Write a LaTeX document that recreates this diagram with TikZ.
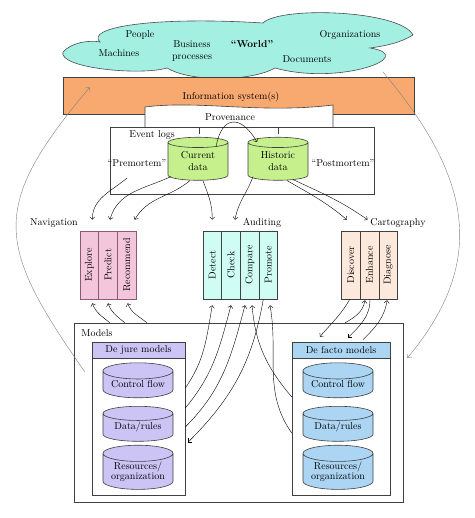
\documentclass[tikz,border=0pt]{standalone}
\usetikzlibrary{shapes.geometric}
\usetikzlibrary{positioning}
\usetikzlibrary{arrows.meta}
\definecolor{cloudfill}{HTML}{A3EFE2}
\definecolor{infofill}{HTML}{F8A970}
\definecolor{greenfill}{HTML}{C6F08C}
\definecolor{pinkfill}{HTML}{F4C6DC}
\definecolor{pinkline}{HTML}{8C5A72}
\definecolor{cyanfill}{HTML}{CFFCF3}
\definecolor{peachfill}{HTML}{FCE9DC}
\definecolor{lilacfill}{HTML}{CBC4F5}
\definecolor{bluefill}{HTML}{ABD5F2}
\tikzset{
    frame/.style = {rectangle, draw=black!75, semithick, inner sep=0pt},
    cell/.style = {rectangle, draw=black!75, semithick, minimum width=18.7pt, minimum height=68pt, inner sep=0pt},
    cellp/.style = {cell, fill=pinkfill, draw=pinkline},
    cella/.style = {cell, fill=cyanfill},
    cellc/.style = {cell, fill=peachfill},
    mydb/.style = {cylinder, shape border rotate=90, aspect=0.3, draw=black!75, semithick, align=center, inner sep=0pt},
    mydbg/.style = {mydb, fill=greenfill, minimum width=60pt, minimum height=43pt},
    mydbl/.style = {mydb, fill=lilacfill, minimum width=70pt, minimum height=35pt},
    mydbb/.style = {mydb, fill=bluefill, minimum width=70pt, minimum height=35pt},
    edgen/.style = {-{Straight Barb[length=2.5pt,width=5pt]}, thin},
    edgeg/.style = {-{Straight Barb[length=3pt,width=6pt]}, thin, gray},
}

\begin{document}
\begin{tikzpicture}[x=1pt,y=1pt]
\useasboundingbox (0,0) rectangle (474,518);
%
% world cloud
\path[draw=black!70, semithick, fill=cloudfill] (63,466)
    .. controls (72,476) and (90,478) .. (100,476)
    .. controls (85,490) and (150,502) .. (263,495)
    .. controls (280,512) and (400,508) .. (413,483)
    .. controls (400,475) and (385,472) .. (370,470)
    .. controls (420,462) and (340,432) .. (275,450)
    .. controls (250,436) and (190,436) .. (167,450)
    .. controls (140,442) and (58,450) .. (63,466) -- cycle;
\coordinate (world) at (383,446);
\node at (140,483) (people) {People};
\node at (119,465) (machines) {Machines};
\node[align=center] at (192,467) (bp) {Business\\processes};
\node at (252,474) (wld) {\textbf{``World''}};
\node at (350,483) (orgs) {Organizations};
\node at (307,459) (docs) {Documents};
%
% information system and provenance
\node[frame, fill=infofill, minimum width=351pt, minimum height=37pt] at (238.5,422.5) (info) {};
\node at (231,421) (infotxt) {Information system(s)};
\path[draw=black!75, semithick, fill=white] (145,390) -- (145,411)
    .. controls (200,418) and (260,404) .. (333,413) -- (333,390) -- cycle;
\node at (230,401) (prov) {Provenance};
%
% event logs
\node[frame, fill=white, minimum width=264pt, minimum height=67pt] at (242,357.5) (ev) {};
\draw[black!75, semithick] ([xshift=-43pt]ev.north) -- ++(0,-7);
\draw[black!75, semithick] ([xshift=36pt]ev.north) -- ++(0,-7);
\node at (152,383) (evtxt) {Event logs};
\node[mydbg] at (198,356.5) (cur) {Current\\data};
\node[mydbg] at (278,356.5) (his) {Historic\\data};
\node at (137,355) (pre) {``Premortem''};
\node at (343,355) (post) {``Postmortem''};
%
% navigation, auditing, cartography
\node at (54,295) (navtxt) {Navigation};
\node at (262,295) (audtxt) {Auditing};
\node at (398,295) (cartxt) {Cartography};
\node[cellp] at (89.3,253) (exp) {\rotatebox{90}{Explore}};
\node[cellp] at (108,253) (prd) {\rotatebox{90}{Predict}};
\node[cellp] at (126.7,253) (rec) {\rotatebox{90}{Recommend}};
\node[cella] at (212.3,253) (det) {\rotatebox{90}{Detect}};
\node[cella] at (231,253) (chk) {\rotatebox{90}{Check}};
\node[cella] at (249.7,253) (cmp) {\rotatebox{90}{Compare}};
\node[cella] at (268.3,253) (prm) {\rotatebox{90}{Promote}};
\node[cellc] at (350.8,253) (dis) {\rotatebox{90}{Discover}};
\node[cellc] at (369.5,253) (enh) {\rotatebox{90}{Enhance}};
\node[cellc] at (388.2,253) (dia) {\rotatebox{90}{Diagnose}};
%
% models
\node[frame, fill=white, minimum width=329pt, minimum height=179pt] at (238.5,105.5) (models) {};
\node at (97,185) (modtxt) {Models};
\node[frame, minimum width=93pt, minimum height=153pt] at (138.5,99.5) (dj) {};
\node[frame, fill=lilacfill, minimum width=93pt, minimum height=16pt] at (138.5,168) (djh) {De jure models};
\node[mydbl] at (138,133.5) (djcf) {Control flow};
\node[mydbl] at (138,90.5) (djdr) {Data/rules};
\node[mydbl, minimum height=37pt] at (138,46.5) (djro) {Resources/\\[-2pt]organization};
\node[frame, minimum width=98pt, minimum height=153pt] at (341,99.5) (df) {};
\node[frame, fill=bluefill, minimum width=98pt, minimum height=16pt] at (341,168) (dfh) {De facto models};
\node[mydbb] at (338,133.5) (dfcf) {Control flow};
\node[mydbb] at (338,90.5) (dfdr) {Data/rules};
\node[mydbb, minimum height=37pt] at (338,46.5) (dfro) {Resources/\\[-2pt]organization};
%
% arrows from the event logs
\draw[edgen] ([xshift=18pt,yshift=-10pt]cur.north) to[out=80,in=120,looseness=2] ([xshift=-21pt,yshift=-5pt]his.north);
\draw[edgen] ([xshift=-10pt,yshift=-8pt]pre.south) to[out=-140,in=90] ([xshift=3pt,yshift=11pt]exp.north);
\draw[edgen] ([xshift=-27pt,yshift=4pt]cur.south) to[out=-155,in=75] ([xshift=2pt,yshift=11pt]prd.north);
\draw[edgen] ([xshift=-8pt]cur.south) to[out=-140,in=60] ([xshift=8pt,yshift=11pt]rec.north);
\draw[edgen] ([xshift=5pt]cur.south) to[out=-70,in=90] ([yshift=11pt]det.north);
\draw[edgen] ([xshift=-25pt,yshift=4pt]his.south) to[out=-110,in=80] ([xshift=4pt,yshift=11pt]chk.north);
\draw[edgen] ([xshift=9pt]his.south) to[out=-30,in=140] ([xshift=-4pt,yshift=11pt]dis.north);
\draw[edgen] ([xshift=15pt,yshift=1pt]his.south) to[out=-25,in=145] ([xshift=-2pt,yshift=11pt]enh.north);
%
% arrows between the models and the use cases
\draw[edgen] ([xshift=36pt]models.north west) to[out=140,in=-70] ([xshift=3pt,yshift=-4pt]exp.south);
\draw[edgen] ([xshift=51pt]models.north west) to[out=140,in=-70] ([yshift=-4pt]prd.south);
\draw[edgen] ([xshift=73pt]models.north west) to[out=140,in=-70] ([xshift=1pt,yshift=-4pt]rec.south);
\draw[edgen] ([yshift=30.5pt]dj.east) to[out=55,in=-100] ([yshift=-6pt]det.south);
\draw[edgen] ([yshift=10.5pt]dj.east) to[out=50,in=-105] ([yshift=-6pt]chk.south);
\draw[edgen] ([yshift=-8.5pt]dj.east) to[out=45,in=-105] ([xshift=-4.7pt,yshift=-6pt]cmp.south);
\draw[edgen] ([xshift=-5pt]prm.south) to[out=-100,in=45] ([xshift=3pt,yshift=-23.5pt]dj.east);
\draw[edgen] ([yshift=21.5pt]df.west) to[out=130,in=-85] ([xshift=2.3pt,yshift=-6pt]cmp.south);
\draw[edgen] ([yshift=-14.5pt]df.west) to[out=125,in=-80] ([xshift=1.7pt,yshift=-6pt]prm.south);
\draw[edgen] ([xshift=-1pt]dis.south) to[out=-120,in=50] ([xshift=-21pt,yshift=5pt]dfh.north);
\draw[edgen] ([xshift=-58pt]models.north east) to[out=30,in=-100] ([xshift=-4.5pt,yshift=-1pt]enh.south);
\draw[edgen] ([xshift=0.5pt]enh.south) to[out=-90,in=45] ([xshift=7pt,yshift=4pt]dfh.north);
\draw[edgen] ([xshift=22pt,yshift=2pt]dfh.north) to[out=45,in=-100] ([xshift=-1pt,yshift=-1pt]dia.south);
%
% feedback loops
\draw[edgeg] ([xshift=11pt,yshift=-49pt]models.north west) to[out=125,in=-130,looseness=1.4] ([xshift=27pt,yshift=27pt]info.south west);
\draw[edgeg] (world) to[out=-50,in=50,looseness=1.17] ([xshift=4pt,yshift=54.5pt]models.east);

\end{tikzpicture}
\end{document}
